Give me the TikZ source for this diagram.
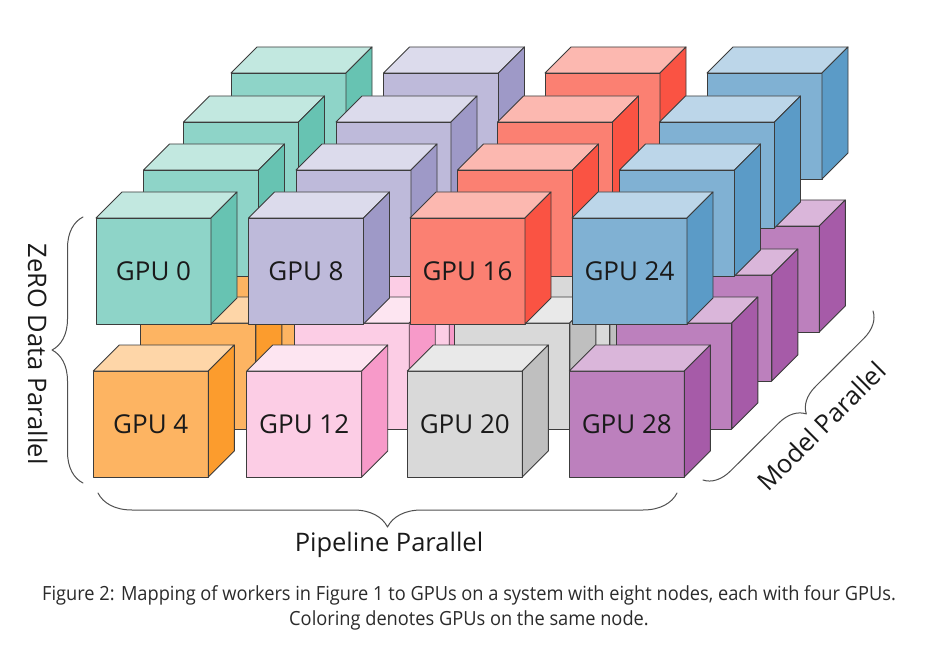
\documentclass[tikz,border=0pt]{standalone}
\usepackage{fontspec}
\setmainfont{Open Sans}
\newfontfamily\capfont[FakeStretch=0.935]{Open Sans}
\usetikzlibrary{decorations.pathreplacing}
\definecolor{tealF}{HTML}{8ED4C8}\definecolor{tealT}{HTML}{C2E8E0}\definecolor{tealS}{HTML}{67C3B2}
\definecolor{lavF}{HTML}{BEBADA}\definecolor{lavT}{HTML}{DCDBEC}\definecolor{lavS}{HTML}{9E99C7}
\definecolor{redF}{HTML}{FB8072}\definecolor{redT}{HTML}{FCB8B0}\definecolor{redS}{HTML}{FA5343}
\definecolor{blueF}{HTML}{80B1D3}\definecolor{blueT}{HTML}{BCD6E9}\definecolor{blueS}{HTML}{5B9BC7}
\definecolor{orngF}{HTML}{FDB462}\definecolor{orngT}{HTML}{FED6A8}\definecolor{orngS}{HTML}{FC9C2D}
\definecolor{pinkF}{HTML}{FCCDE5}\definecolor{pinkT}{HTML}{FDE5F1}\definecolor{pinkS}{HTML}{F79AC9}
\definecolor{greyF}{HTML}{D9D9D9}\definecolor{greyT}{HTML}{E9E9E9}\definecolor{greyS}{HTML}{BFBFBF}
\definecolor{purpF}{HTML}{BC80BD}\definecolor{purpT}{HTML}{DAB6DA}\definecolor{purpS}{HTML}{A65BA8}
\definecolor{edgecol}{HTML}{3C3C3C}
\definecolor{txtcol}{HTML}{1A1A1A}
\definecolor{capcol}{HTML}{2B2B2B}
\definecolor{brccol}{HTML}{505050}
\tikzset{
  edge/.style={draw=edgecol, line width=0.9pt, line join=round},
  face/.style={edge, anchor=north west, minimum width=115pt, minimum height=106pt,
    inner sep=0pt, outer sep=0pt, text=txtcol, font=\fontsize{26}{30}\selectfont},
  lbl/.style={text=txtcol, font=\fontsize{25.5}{30}\selectfont, inner sep=0pt},
  capstyle/.style={text=capcol, font=\capfont\fontsize{19.5}{24}\selectfont, inner sep=0pt},
  brc/.style={draw=brccol, line width=1pt, decorate, line cap=round, line join=round},
}
\newcommand{\gcube}[5]{%
  \node[face, fill=#4F] (#1) at (#2,#3) {#5};
  \draw[edge, fill=#4T] (#1.north west) -- ++(26,-26) -- ++(115,0) -- (#1.north east) -- cycle;
  \draw[edge, fill=#4S] (#1.north east) -- ++(26,-26) -- ++(0,106) -- (#1.south east) -- cycle;
}
\begin{document}
\begin{tikzpicture}[x=1pt,y=-1pt]
\fill[white] (0,0) rectangle (938,658);
\useasboundingbox (0,0) rectangle (938,658);
\foreach \L/\dx/\dy in {3/135/-145,2/87.5/-96,1/47.5/-48,0/0/0}{
  \foreach \c/\tx/\bx/\tc/\bc/\tn/\bn in {0/96/93.3/teal/orng/0/4,1/248.5/246.7/lav/pink/8/12,2/410/407.3/red/grey/16/20,3/572/569.3/blue/purp/24/28}{
    \pgfmathsetmacro\Xb{\bx+\dx}
    \pgfmathsetmacro\Yb{371+\dy}
    \pgfmathsetmacro\Xt{\tx+\dx}
    \pgfmathsetmacro\Yt{218+\dy}
    \ifnum\L=0 \def\labb{GPU \bn}\def\labt{GPU \tn}\else\def\labb{}\def\labt{}\fi
    \gcube{b\L c\c}{\Xb}{\Yb}{\bc}{\labb}
    \gcube{t\L c\c}{\Xt}{\Yt}{\tc}{\labt}
  }
}
% braces
\coordinate (lbA) at (83,483);
\coordinate (lbB) at (83,217);
\draw[brc, decoration={brace,amplitude=31pt}] (lbA) -- (lbB);
\coordinate (bbA) at (677,493);
\coordinate (bbB) at (98,493);
\draw[brc, decoration={brace,amplitude=34pt}] (bbA) -- (bbB);
\coordinate (rbA) at (873,311);
\coordinate (rbB) at (703,480);
\draw[brc, decoration={brace,amplitude=26pt}] (rbA) -- (rbB);
% labels
\node[lbl, rotate=-90, anchor=base] (zdp) at (28,354) {ZeRO Data Parallel};
\node[lbl, anchor=base] (pp) at (389,551) {Pipeline Parallel};
\node[lbl, rotate=45, anchor=base] (mp) at (828,433) {Model Parallel};
% caption
\node[capstyle, anchor=base] (cap1) at (469,600) {Figure 2: Mapping of workers in Figure 1 to GPUs on a system with eight nodes, each with four GPUs.};
\node[capstyle, anchor=base] (cap2) at (469,625) {Coloring denotes GPUs on the same node.};
\end{tikzpicture}
\end{document}
